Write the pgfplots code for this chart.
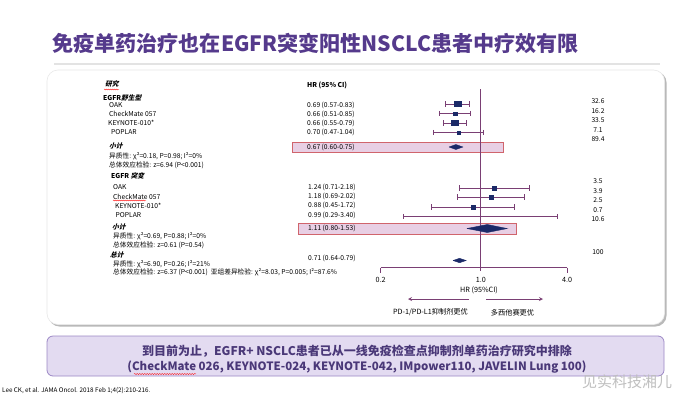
\documentclass[border=0pt]{standalone}
\usepackage{pgfplots}
\pgfplotsset{compat=1.18}
\usepackage{fontspec}
\setmainfont{Noto Sans CJK SC}
\newfontfamily\slantcjk[FakeSlant=0.25]{Noto Sans CJK SC}
\usetikzlibrary{decorations.pathmorphing}
\definecolor{plum}{HTML}{7A3F74}
\definecolor{navy}{HTML}{1B2A68}
\definecolor{rectfill}{HTML}{E8CFE4}
\definecolor{rectborder}{HTML}{D0646C}
\definecolor{titlepurple}{HTML}{553A8C}
\definecolor{boxfill}{HTML}{E3DBF1}
\definecolor{boxborder}{HTML}{9C88C6}
\definecolor{boxtext}{HTML}{4A3878}
\newcommand{\tf}{\fontsize{6.7}{7}\selectfont}
\newcommand{\af}{\fontsize{7.2}{8}\selectfont}
\newcommand{\hd}[1]{{\slantcjk\bfseries #1}}
\begin{document}
\begin{tikzpicture}
\begin{scope}[x=1pt,y=-1pt]
% canvas
\fill[white] (0,0) rectangle (700,399);
% title
\node[anchor=west,text=titlepurple,font=\bfseries\fontsize{21.1}{23}\selectfont,inner sep=0] at (52,43) {免疫单药治疗也在EGFR突变阳性NSCLC患者中疗效有限};
\draw[gray!22,line width=1.2pt] (54,64) -- (660,64);
% panel
\fill[gray!55,rounded corners=11pt] (48.5,71.5) rectangle (666.5,326.5);
\draw[fill=white,draw=gray!18,line width=0.6pt,rounded corners=11pt] (47,70) rectangle (664.5,324.5);
% highlight rectangles
\draw[fill=rectfill,draw=rectborder,line width=0.7pt] (292,142.5) rectangle (503,152.5);
\draw[fill=rectfill,draw=rectborder,line width=0.7pt] (298,223) rectangle (516,234);
% left column
\begin{scope}[every node/.style={anchor=west,inner sep=0,font=\tf}]
\node at (105,84) {\hd{研究}};
\node at (103,98) {\bfseries EGFR\hd{野生型}};
\node at (109,105) {OAK};
\node at (109,114) {CheckMate 057};
\node at (108,123) {KEYNOTE-010*};
\node at (111,132) {POPLAR};
\node at (109,146) {\hd{小计}};
\node at (109,156) {异质性: χ²=0.18, P=0.98; I²=0\%};
\node at (109,165) {总体效应检验: z=6.94 (P<0.001)};
\node at (111,176) {\bfseries EGFR \hd{突变}};
\node at (113,187) {OAK};
\node at (113,196.5) {CheckMate 057};
\node at (115,205.5) {KEYNOTE-010*};
\node at (115.5,215) {POPLAR};
\node at (112,226.5) {\hd{小计}};
\node at (113,236) {异质性: χ²=0.69, P=0.88; I²=0\%};
\node at (113,245.5) {总体效应检验: z=0.61 (P=0.54)};
\node at (110,255) {\hd{总计}};
\node at (113,264) {异质性: χ²=6.90, P=0.26; I²=21\%};
\node at (113,272.5) {总体效应检验: z=6.37 (P<0.001) \ 亚组差异检验: χ²=8.03, P=0.005; I²=87.6\%};
% HR column
\node at (307,85) {\bfseries HR (95\% CI)};
\node at (307,105) {0.69 (0.57-0.83)};
\node at (307,114) {0.66 (0.51-0.85)};
\node at (307,123) {0.66 (0.55-0.79)};
\node at (307,132) {0.70 (0.47-1.04)};
\node at (307,147.5) {0.67 (0.60-0.75)};
\node at (308,187) {1.24 (0.71-2.18)};
\node at (308,196) {1.18 (0.69-2.02)};
\node at (308,205.5) {0.88 (0.45-1.72)};
\node at (308,215) {0.99 (0.29-3.40)};
\node at (308,228) {1.11 (0.80-1.53)};
\node at (308,258) {0.71 (0.64-0.79)};
\end{scope}
% weights
\begin{scope}[every node/.style={anchor=center,inner sep=0,font=\tf}]
\node at (598,101.5) {32.6};
\node at (598,111) {16.2};
\node at (598,120.5) {33.5};
\node at (598,130) {7.1};
\node at (598,139.5) {89.4};
\node at (598,181.5) {3.5};
\node at (598,191) {3.9};
\node at (598,200.5) {2.5};
\node at (598,210) {0.7};
\node at (598,219.5) {10.6};
\node at (598,252) {100};
\end{scope}
\node[font=\af] at (479,290.5) {HR (95\%CI)};
\draw[plum,line width=0.8pt,-stealth] (469,299) -- (408,299);
\draw[plum,line width=0.8pt,-stealth] (486,299) -- (543,299);
\node[font=\af] at (430.5,312.5) {PD-1/PD-L1抑制剂更优};
\node[font=\af] at (512.5,312.5) {多西他赛更优};
% spell-check underlines
\draw[red,line width=0.35pt,decorate,decoration={snake,amplitude=0.4pt,segment length=2pt}] (104,89.5) -- (119,89.5);
\draw[red,line width=0.35pt,decorate,decoration={snake,amplitude=0.4pt,segment length=2pt}] (113,200.5) -- (146,200.5);
% bottom box
\draw[fill=boxfill,draw=boxborder,line width=0.8pt,rounded corners=6pt] (47,336) rectangle (664,376);
\node[text=boxtext,font=\bfseries\fontsize{12}{13}\selectfont,inner sep=0] at (357,351) {到目前为止，EGFR+ NSCLC患者已从一线免疫检查点抑制剂单药治疗研究中排除};
\node[text=boxtext,font=\bfseries\fontsize{11.5}{13}\selectfont,inner sep=0] at (357,367) {(CheckMate 026, KEYNOTE-024, KEYNOTE-042, IMpower110, JAVELIN Lung 100)};
\draw[red,line width=0.4pt,decorate,decoration={snake,amplitude=0.5pt,segment length=2.5pt}] (134,374) -- (196,374);
% reference
\node[anchor=west,inner sep=0,font=\fontsize{6.3}{7}\selectfont] at (2,391) {Lee CK, et al. JAMA Oncol. 2018 Feb 1;4(2):210-216.};
% watermark
\node[anchor=west,inner sep=0,text=gray!50,font=\fontsize{15}{16}\selectfont] at (582,382) {见实科技湘儿};
\end{scope}
% forest plot
\begin{axis}[at={(380.7pt,-267.5pt)},anchor=south west,scale only axis,
  width=186.3pt,height=187.5pt,xmode=log,xmin=0.2,xmax=4,ymin=80,ymax=267.5,
  y dir=reverse,hide axis,clip=false,unbounded coords=jump]
% reference line
\addplot[plum,line width=0.8pt] coordinates {(1,89) (1,271)};
% CIs
\addplot[plum,line width=0.7pt,mark=|,mark size=2.6pt,mark options={solid}] coordinates {
(0.57,104) (0.83,104) (nan,nan)
(0.51,113.5) (0.85,113.5) (nan,nan)
(0.55,123) (0.79,123) (nan,nan)
(0.47,132.5) (1.04,132.5) (nan,nan)
(0.71,188) (2.18,188) (nan,nan)
(0.69,197) (2.02,197) (nan,nan)
(0.45,207) (1.72,207) (nan,nan)
(0.29,216.5) (3.40,216.5)};
% boxes
\addplot[only marks,mark=square*,navy,mark size=2.6pt,mark options={xscale=1.3}] coordinates {(0.69,104) (0.66,123)};
\addplot[only marks,mark=square*,navy,mark size=1.7pt,mark options={xscale=1.3}] coordinates {(0.66,113.5)};
\addplot[only marks,mark=square*,navy,mark size=1.5pt,mark options={xscale=1.2}] coordinates {(0.70,132.5)};
\addplot[only marks,mark=square*,navy,mark size=1.7pt,mark options={xscale=1.2}] coordinates {(1.24,188) (1.18,197) (0.88,207)};
% diamonds
\addplot[fill=navy,draw=navy] coordinates {(0.60,147) (0.67,144.5) (0.75,147) (0.67,149.5) (0.60,147)};
\addplot[fill=navy,draw=navy] coordinates {(0.80,228.5) (1.11,224.5) (1.53,228.5) (1.11,232.5) (0.80,228.5)};
\addplot[fill=navy,draw=navy] coordinates {(0.64,260.5) (0.71,258.3) (0.79,260.5) (0.71,262.7) (0.64,260.5)};
% x axis
\draw[plum,line width=0.8pt] (axis cs:0.2,267.5) -- (axis cs:4,267.5);
\draw[plum,line width=0.8pt] (axis cs:0.2,267.5) -- (axis cs:0.2,273);
\draw[plum,line width=0.8pt] (axis cs:4,267.5) -- (axis cs:4,273);
\node[font=\af] at (axis cs:0.2,280) {0.2};
\node[font=\af] at (axis cs:1,280) {1.0};
\node[font=\af] at (axis cs:4,280) {4.0};
\end{axis}
\end{tikzpicture}
\end{document}
